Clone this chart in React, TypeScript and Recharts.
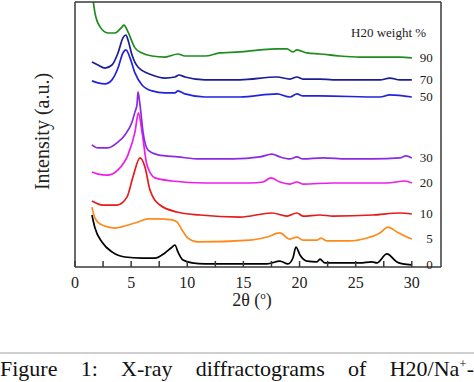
import React from "react"
import { LineChart, Line, XAxis, YAxis, Label } from "recharts"

// 2theta (deg), intensity (a.u., offset per sample)
const water0 = [
  [1.51, 2.55], [1.78, 1.91], [2.4, 1.23], [3.29, 0.74], [4.45, 0.49], [5.97, 0.44], [7.12, 0.44],
  [8.01, 0.69], [8.55, 0.93], [8.9, 1.08], [9.17, 0.74], [9.62, 0.34], [10.42, 0.2], [11.58, 0.15],
  [17.1, 0.15], [18.25, 0.29], [18.97, 0.15], [19.41, 0.44], [19.68, 0.98], [20.04, 0.59], [20.66, 0.29],
  [21.55, 0.25], [21.82, 0.39], [22.26, 0.2], [25.38, 0.2], [26.45, 0.25], [26.89, 0.2], [27.78, 0.64],
  [28.67, 0.25], [29.21, 0.15], [30, 0.1],
]
const water5 = [
  [1.51, 2.94], [1.78, 2.4], [2.4, 2.06], [3.56, 1.91], [4.72, 2.06], [5.61, 2.21], [6.5, 2.36],
  [7.39, 2.36], [8.64, 2.31], [9.08, 2.21], [9.53, 1.82], [10.06, 1.42], [10.95, 1.23], [15.58, 1.32],
  [17.1, 1.47], [18.25, 1.67], [19.14, 1.37], [19.77, 1.47], [20.3, 1.32], [21.55, 1.32], [21.91, 1.42],
  [22.44, 1.28], [24.49, 1.28], [26.0, 1.42], [27.16, 1.67], [27.87, 1.96], [28.67, 1.72], [29.56, 1.47],
  [30, 1.37],
]
const water10 = [
  [1.51, 3.24], [2.49, 3.04], [3.74, 3.04], [4.63, 3.43], [5.16, 4.42], [5.79, 5.35], [6.23, 4.91],
  [6.68, 3.78], [7.57, 3.04], [9.08, 2.7], [11.13, 2.55], [14.69, 2.45], [17.54, 2.65], [18.88, 2.5],
  [19.77, 2.65], [20.3, 2.5], [21.82, 2.55], [22.97, 2.5], [26.54, 2.55], [28.94, 2.65], [30, 2.6],
]
const water20 = [
  [1.51, 4.66], [2.05, 4.56], [2.94, 4.51], [3.83, 4.76], [4.72, 5.5], [5.34, 6.62], [5.65, 7.56],
  [5.97, 6.62], [6.41, 5.0], [7.12, 4.37], [8.64, 4.22], [11.58, 4.12], [15.58, 4.12], [16.74, 4.17],
  [17.45, 4.37], [18.25, 4.17], [19.14, 4.07], [19.77, 4.17], [20.3, 4.07], [22.97, 4.12], [27.78, 4.12],
  [29.39, 4.22], [30, 4.12],
]
const water30 = [
  [1.51, 5.99], [2.05, 5.84], [2.94, 5.84], [3.83, 6.13], [4.45, 6.48], [5.08, 7.11], [5.34, 7.61],
  [5.52, 7.95], [5.61, 8.59], [5.79, 7.95], [6.06, 6.62], [6.5, 5.74], [7.39, 5.5], [9.17, 5.4],
  [11.13, 5.3], [14.07, 5.3], [16.47, 5.4], [17.54, 5.54], [18.25, 5.4], [19.14, 5.3], [19.77, 5.4],
  [20.3, 5.3], [22.08, 5.35], [24.22, 5.3], [26.54, 5.3], [28.94, 5.35], [29.47, 5.45], [30, 5.35],
]
const water50 = [
  [1.51, 9.13], [2.05, 9.03], [2.67, 8.98], [3.29, 9.18], [3.83, 9.76], [4.27, 10.5], [4.54, 10.65],
  [4.9, 10.26], [5.34, 9.52], [5.97, 8.93], [6.86, 8.64], [8.01, 8.54], [8.9, 8.54], [9.17, 8.64],
  [9.8, 8.49], [11.58, 8.34], [14.69, 8.34], [17.99, 8.49], [19.14, 8.34], [19.77, 8.49], [20.3, 8.39],
  [21.82, 8.39], [27.16, 8.34], [28.05, 8.44], [30, 8.34],
]
const water70 = [
  [1.51, 10.06], [2.05, 9.91], [2.67, 9.76], [3.29, 9.91], [3.83, 10.5], [4.27, 11.24], [4.54, 11.38],
  [4.72, 11.14], [5.08, 10.4], [5.61, 9.81], [6.86, 9.42], [8.01, 9.27], [8.9, 9.32], [9.26, 9.42],
  [9.8, 9.32], [11.58, 9.18], [14.69, 9.18], [17.99, 9.32], [19.14, 9.22], [19.77, 9.32], [20.3, 9.22],
  [21.82, 9.22], [22.97, 9.18], [27.16, 9.18], [28.05, 9.27], [28.94, 9.18], [30, 9.18],
]
const water90 = [
  [1.5, 13.6], [1.78, 12.46], [2.23, 11.78], [2.94, 11.48], [3.56, 11.48], [4.19, 11.78], [4.36, 11.87],
  [4.72, 11.53], [5.34, 10.75], [5.97, 10.5], [6.86, 10.35], [8.01, 10.3], [9.17, 10.45], [9.8, 10.35],
  [11.58, 10.35], [12.91, 10.5], [14.69, 10.55], [16.47, 10.65], [17.99, 10.7], [18.88, 10.7],
  [19.41, 10.55], [19.77, 10.65], [20.66, 10.5], [21.82, 10.45], [23.6, 10.35], [25.38, 10.3],
  [27.16, 10.3], [28.94, 10.3], [30, 10.26],
]

const xTicks = [0, 2.5, 5, 7.5, 10, 12.5, 15, 17.5, 20, 22.5, 25, 27.5, 30]
const yTicks = [0, 1, 2, 3, 4, 5, 6, 7, 8, 9, 10, 11, 12, 13]

const series = [
  { name: "0", points: water0, color: "#000000" },
  { name: "5", points: water5, color: "#ff8a1c" },
  { name: "10", points: water10, color: "#e61a1a" },
  { name: "20", points: water20, color: "#ec1ee8" },
  { name: "30", points: water30, color: "#8a2be2" },
  { name: "50", points: water50, color: "#2222e0" },
  { name: "70", points: water70, color: "#1c1c98" },
  { name: "90", points: water90, color: "#1e8c1e" },
]

const FONT = "'Times New Roman', 'Liberation Serif', Times, serif"
const AXIS = "#3a3a3a"

// weight % label to the right of each curve's last point
const endLabel = (name: string, last: number) => (props: any) => {
  if (props.index !== last) return <g />
  return (
    <text x={props.x + 21} y={props.y} dy={4} textAnchor="end" fontSize={13} fill="#222" style={{ fontFamily: FONT }}>
      {name}
    </text>
  )
}

export default function App() {
  return (
    <div style={{ position: "absolute", left: 0, top: 0, width: 474, height: 382, background: "#fff", fontFamily: FONT }}>
      <LineChart width={474} height={310} margin={{ top: 0, right: 23, left: 65, bottom: 13 }} style={{ fontFamily: FONT }}>
        <XAxis
          dataKey="x"
          type="number"
          domain={[0, 32.6]}
          ticks={xTicks}
          interval={0}
          allowDataOverflow
          tickSize={-6}
          tickMargin={16}
          tickFormatter={(v: number) => (v % 5 === 0 ? String(v) : "")}
          tick={{ fontSize: 16, fill: "#222", style: { fontFamily: FONT } }}
          stroke={AXIS}
          strokeWidth={1.5}
          height={30}
        >
          <Label
            content={({ viewBox }: any) => (
              <text x={viewBox.x + viewBox.width / 2 - 6} y={306} textAnchor="middle" fontSize={18} fill="#222" style={{ fontFamily: FONT }}>
                2θ (<tspan dy={-7} fontSize={11}>o</tspan><tspan dy={7}>)</tspan>
              </text>
            )}
          />
        </XAxis>
        <XAxis
          xAxisId="top"
          orientation="top"
          dataKey="x"
          type="number"
          domain={[0, 32.6]}
          ticks={xTicks}
          interval={0}
          tickSize={-6}
          tick={false}
          stroke={AXIS}
          strokeWidth={1.5}
          height={2}
        />
        <YAxis
          type="number"
          domain={[0, 13]}
          ticks={yTicks}
          interval={0}
          allowDataOverflow
          tickSize={-6}
          tick={false}
          stroke={AXIS}
          strokeWidth={1.5}
          width={10}
        >
          <Label
            content={({ viewBox }: any) => (
              <text
                transform={`translate(${viewBox.x - 23}, ${viewBox.y + viewBox.height / 2 - 3}) rotate(-90)`}
                textAnchor="middle"
                dominantBaseline="central"
                fontSize={20}
                fill="#222"
                style={{ fontFamily: FONT }}
              >
                Intensity (a.u.)
              </text>
            )}
          />
        </YAxis>
        <YAxis
          yAxisId="right"
          orientation="right"
          type="number"
          domain={[0, 13]}
          ticks={yTicks}
          interval={0}
          tickSize={-6}
          tick={false}
          stroke={AXIS}
          strokeWidth={1.5}
          width={10}
        />
        {series.map((s) => (
          <Line
            key={s.name}
            type="monotone"
            data={s.points.map(([x, y]) => ({ x, y }))}
            dataKey="y"
            stroke={s.color}
            strokeWidth={1.7}
            dot={false}
            label={endLabel(s.name, s.points.length - 1)}
            isAnimationActive={false}
          />
        ))}
      </LineChart>
      <div style={{ position: "absolute", left: 351, top: 26, fontSize: 13, lineHeight: "13px", color: "#222", whiteSpace: "nowrap" }}>
        H20 weight %
      </div>
      <div style={{ position: "absolute", left: 0, top: 352, width: 474, height: 2, background: "#cfcfcf" }} />
      <div
        style={{
          position: "absolute",
          left: 0,
          top: 358,
          width: 474,
          fontSize: 22,
          lineHeight: "22px",
          color: "#111",
          textAlign: "justify",
          textAlignLast: "justify",
          whiteSpace: "nowrap",
        }}
      >
        Figure 1: X-ray diffractograms of H20/Na<sup style={{ fontSize: 13, lineHeight: 0 }}>+</sup>-
      </div>
    </div>
  )
}
